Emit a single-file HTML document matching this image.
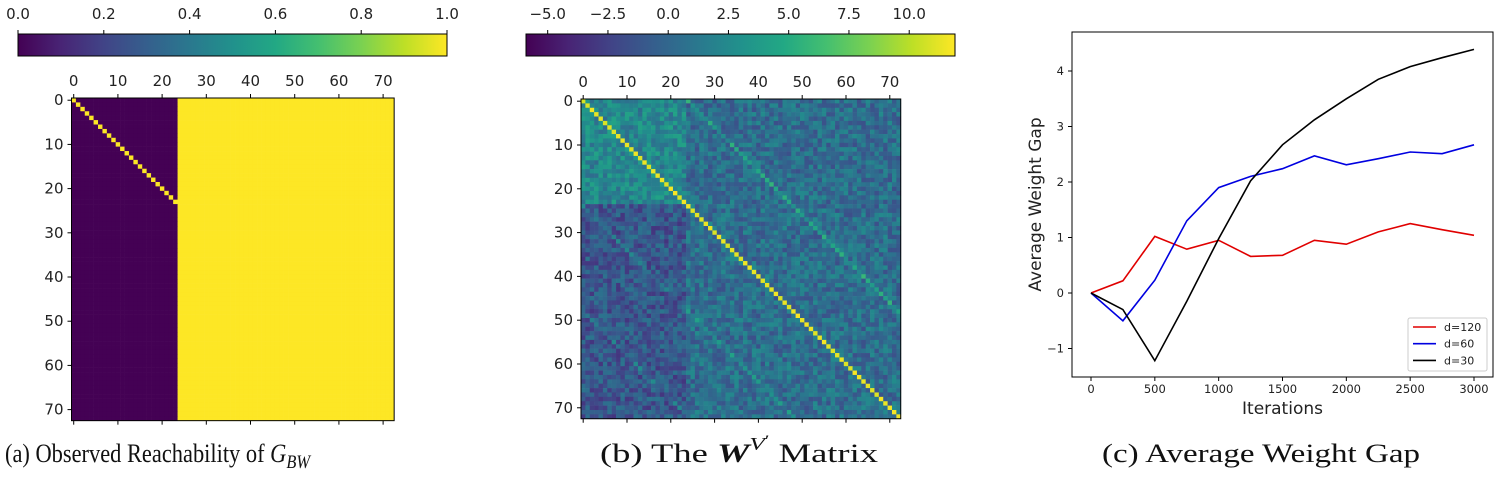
<!DOCTYPE html>
<html><head><meta charset="utf-8">
<style>
body{margin:0;background:#fff;}
svg{display:block;}
.t{font-family:"DejaVu Sans","Liberation Sans",sans-serif;fill:#222;}
.cap{font-family:"Liberation Serif",serif;font-size:26px;fill:#111;}
</style></head>
<body>
<svg id="fig" width="1498" height="479" viewBox="0 0 1498 479" xmlns="http://www.w3.org/2000/svg">
<defs>
<linearGradient id="vir" x1="0" x2="1" y1="0" y2="0">
<stop offset="0" stop-color="#440154"/><stop offset="0.1" stop-color="#482475"/><stop offset="0.2" stop-color="#414487"/><stop offset="0.3" stop-color="#355f8d"/><stop offset="0.4" stop-color="#2a788e"/><stop offset="0.5" stop-color="#21918c"/><stop offset="0.6" stop-color="#22a884"/><stop offset="0.7" stop-color="#44bf70"/><stop offset="0.8" stop-color="#7ad151"/><stop offset="0.9" stop-color="#bddf26"/><stop offset="1" stop-color="#fde725"/>
</linearGradient>
</defs>
<g id="pa"></g>
<g id="pb"></g>
<g id="pc"></g>
<text class="cap" x="5" y="462" textLength="305" lengthAdjust="spacingAndGlyphs">(a) Observed Reachability of <tspan font-style="italic">G</tspan><tspan font-style="italic" font-size="19" dy="6">BW</tspan></text>
<text class="cap" x="600" y="462" textLength="278" lengthAdjust="spacingAndGlyphs">(b) The <tspan font-weight="bold" font-style="italic">W</tspan><tspan font-style="italic" font-size="18" dy="-12">V</tspan><tspan font-size="15" dy="-5">′</tspan><tspan dy="17"> Matrix</tspan></text>
<text class="cap" x="1102" y="462" textLength="318" lengthAdjust="spacingAndGlyphs">(c) Average Weight Gap</text>
</svg>
<script>
const NS="http://www.w3.org/2000/svg";
// ---- data ----
const N=73;
const cbTicksA=[0.0,0.2,0.4,0.6,0.8,1.0];
const cbTicksB=[-5.0,-2.5,0.0,2.5,5.0,7.5,10.0];
const matTicks=[0,10,20,30,40,50,60,70];
const iters=[0,250,500,750,1000,1250,1500,1750,2000,2250,2500,2750,3000];
const d120=[0,0.22,1.02,0.79,0.95,0.66,0.68,0.95,0.88,1.1,1.25,1.14,1.04];
const d60=[0,-0.5,0.23,1.3,1.9,2.1,2.24,2.47,2.31,2.42,2.54,2.51,2.67];
const d30=[0,-0.3,-1.22,-0.15,0.98,2.02,2.67,3.12,3.5,3.85,4.08,4.24,4.39];
const xTicksC=[0,500,1000,1500,2000,2500,3000];
const yTicksC=[-1,0,1,2,3,4];
const legendLabels=["d=120","d=60","d=30"];

const stops=[[68,1,84],[72,36,117],[65,68,135],[53,95,141],[42,120,142],[33,145,140],[34,168,132],[68,191,112],[122,209,81],[189,223,38],[253,231,37]];
function viridis(t){t=Math.max(0,Math.min(1,t));const p=t*10,i=Math.min(9,Math.floor(p)),f=p-i;
 const a=stops[i],b=stops[i+1];return `rgb(${Math.round(a[0]+(b[0]-a[0])*f)},${Math.round(a[1]+(b[1]-a[1])*f)},${Math.round(a[2]+(b[2]-a[2])*f)})`;}
function el(tag,attrs,parent,txt){const e=document.createElementNS(NS,tag);for(const k in attrs)e.setAttribute(k,attrs[k]);if(txt!==undefined)e.textContent=txt;parent.appendChild(e);return e;}

function colorbar(g,x0,x1,y0,y1,vmin,vmax,ticks,fmt,name){
 const r=el('rect',{x:x0,y:y0,width:x1-x0,height:y1-y0,fill:'url(#vir)',stroke:'#000','stroke-width':1},g);
 
 
 ticks.forEach(v=>{const x=x0+(v-vmin)/(vmax-vmin)*(x1-x0);
  el('line',{x1:x,x2:x,y1:y0,y2:y0-4,stroke:'#000'},g);
  const t=el('text',{x:x,y:y0-15,'text-anchor':'middle','font-size':15,class:'t'},g,fmt(v));
  
  
 });
}
function matrix(g,x0,y0,cell,valFn,name){
 const grp=el('g',{},g);
 
 
 for(let r=0;r<N;r++)for(let c=0;c<N;c++){
  el('rect',{x:(x0+c*cell).toFixed(2),y:(y0+r*cell).toFixed(2),width:(cell+0.3).toFixed(2),height:(cell+0.3).toFixed(2),fill:viridis(valFn(r,c))},grp);
 }
 const W=N*cell;
 el('rect',{x:x0,y:y0,width:W,height:W,fill:'none',stroke:'#000','stroke-width':1},g);
 matTicks.forEach(v=>{const p=x0+(v+0.5)*cell;const q=y0+(v+0.5)*cell;
  el('line',{x1:p,x2:p,y1:y0,y2:y0-4,stroke:'#000'},g);
  el('line',{x1:p,x2:p,y1:y0+W,y2:y0+W+4,stroke:'#000'},g);
  el('line',{x1:x0,x2:x0-4,y1:q,y2:q,stroke:'#000'},g);
  const tx=el('text',{x:p,y:y0-12,'text-anchor':'middle','font-size':15,class:'t'},g,v);
  
  
  const ty=el('text',{x:x0-8,y:q+5,'text-anchor':'end','font-size':15,class:'t'},g,v);
  
  
 });
}
// Panel a
const pa=document.getElementById('pa');
colorbar(pa,18,447,34,56,0,1,cbTicksA,v=>v.toFixed(1),'colorbar-a');
matrix(pa,71.5,98,4.42,(r,c)=>(c>=24||(r===c))?1:0,'reachability-heatmap');
// Panel b (texture via deterministic hash for noise)
function h(r,c){let x=Math.sin(r*127.1+c*311.7)*43758.5453;return x-Math.floor(x);}
const vminB=-5.9,vmaxB=11.9;
function wv(r,c){
 let v=0.5+(h(r,c)-0.5)*4.2;
 if(r<24&&c<24)v+=1.8;
 if(r>=24&&c<24)v-=1.6;
 if(c-r===24)v+=3.5;
 if(r-c===24||r-c===48)v+=1.8;
 if(r===c)v=10.8+h(c,r)*1;
 return (v-vminB)/(vmaxB-vminB);
}
const pb=document.getElementById('pb');
colorbar(pb,526,955,34,56,vminB,vmaxB,cbTicksB,v=>(v<0?'\u2212':'')+Math.abs(v).toFixed(1),'colorbar-b');
matrix(pb,581,99,4.38,wv,'weight-matrix-heatmap');
// Panel c
const pc=document.getElementById('pc');
const L=1072,R=1493,T=32,B=377;
const sx=v=>1091+(v/3000)*(1474-1091);
const sy=v=>293-v*55.5;
el('rect',{x:L,y:T,width:R-L,height:B-T,fill:'none',stroke:'#000','stroke-width':1},pc);
xTicksC.forEach(v=>{el('line',{x1:sx(v),x2:sx(v),y1:B,y2:B+4,stroke:'#000'},pc);
 const t=el('text',{x:sx(v),y:B+16,'text-anchor':'middle','font-size':11.5,class:'t'},pc,v);
 
 });
yTicksC.forEach(v=>{el('line',{x1:L,x2:L-4,y1:sy(v),y2:sy(v),stroke:'#000'},pc);
 const t=el('text',{x:L-8,y:sy(v)+4,'text-anchor':'end','font-size':11.5,class:'t'},pc,v<0?'\u2212'+Math.abs(v):v);
 
 });
const xl=el('text',{x:(L+R)/2,y:414,'text-anchor':'middle','font-size':17,class:'t'},pc,'Iterations');


const yl=el('text',{x:0,y:0,'text-anchor':'middle','font-size':17,class:'t',transform:`translate(1041,${(T+B)/2}) rotate(-90)`},pc,'Average Weight Gap');


const series=[[d120,'#e00000','line-d120'],[d60,'#0000e0','line-d60'],[d30,'#000000','line-d30']];
series.forEach(s=>{const pts=iters.map((x,i)=>sx(x).toFixed(1)+','+sy(s[0][i]).toFixed(1)).join(' ');
 const p=el('polyline',{points:pts,fill:'none',stroke:s[1],'stroke-width':1.6},pc);
 
 });
const lg=el('g',{},pc);


el('rect',{x:1408,y:318,width:79,height:53,fill:'#fff',stroke:'#ccc',rx:2},lg);
series.forEach((s,i)=>{const y=327+i*16.7;
 el('line',{x1:1413,x2:1436,y1:y,y2:y,stroke:s[1],'stroke-width':1.6},lg);
 const t=el('text',{x:1444,y:y+4,'font-size':11,class:'t'},lg,legendLabels[i]);
 
 });
</script>
</body></html>
